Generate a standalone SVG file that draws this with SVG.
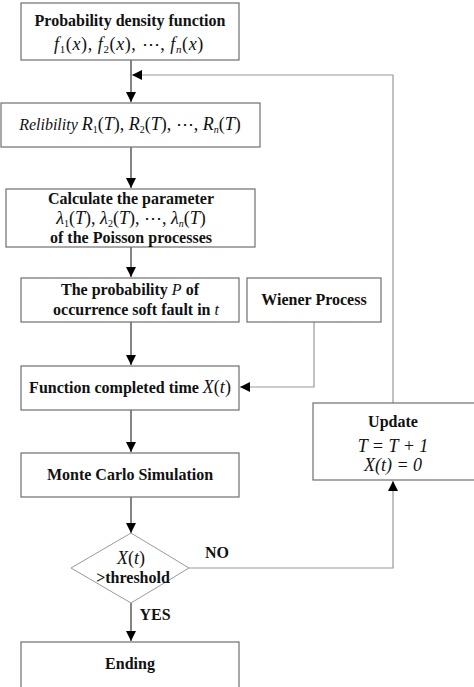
<svg xmlns="http://www.w3.org/2000/svg" width="474" height="687" viewBox="0 0 474 687">
<style>
.box{fill:#fff;stroke:#6e6e6e;stroke-width:1.2}
.dia{fill:#fff;stroke:#9a9a9a;stroke-width:1}
.b{font-family:"Liberation Serif",serif;font-weight:bold;font-size:16px;fill:#111;text-anchor:middle}
.m{font-family:"Liberation Serif",serif;font-style:italic;font-size:18px;fill:#111;text-anchor:middle}
.main{stroke:#333;stroke-width:1.2;fill:none}
.ret{stroke:#999;stroke-width:1.2;fill:none}
</style>
<defs>
<marker id="ah" viewBox="0 0 10 10" refX="10" refY="5" markerWidth="10" markerHeight="10" markerUnits="userSpaceOnUse" orient="auto">
<path d="M0,0 L10,5 L0,10 Z" fill="#000"/>
</marker>
</defs>
<rect width="474" height="687" fill="#fff"/>
<g id="connectors">
<line class="main" x1="131" y1="60" x2="131" y2="102" marker-end="url(#ah)"/>
<line class="main" x1="131" y1="147" x2="131" y2="188" marker-end="url(#ah)"/>
<line class="main" x1="131" y1="247" x2="131" y2="277" marker-end="url(#ah)"/>
<line class="main" x1="131" y1="322" x2="131" y2="365" marker-end="url(#ah)"/>
<line class="main" x1="131" y1="410" x2="131" y2="452" marker-end="url(#ah)"/>
<line class="main" x1="131" y1="497" x2="131" y2="533" marker-end="url(#ah)"/>
<line class="main" x1="131" y1="603" x2="131" y2="641" marker-end="url(#ah)"/>
<polyline class="ret" points="314,322 314,387 240,387" marker-end="url(#ah)"/>
<polyline class="ret" points="189,568 393,568 393,481" marker-end="url(#ah)"/>
<polyline class="ret" points="393,403 393,75 132,75" marker-end="url(#ah)"/>
<text class="b" x="217" y="558">NO</text>
<text class="b" x="155" y="620">YES</text>
</g>
<g id="pdf">
<rect class="box" x="21" y="3" width="218" height="57"/>
<text class="b" x="130" y="26">Probability density function</text>
<text class="m" x="129" y="50" letter-spacing="0.6"><tspan>f</tspan><tspan font-size="11" font-style="normal" dy="3">1</tspan><tspan dy="-3" font-style="normal">(</tspan>x<tspan font-style="normal">), </tspan>f<tspan font-size="11" font-style="normal" dy="3">2</tspan><tspan dy="-3" font-style="normal">(</tspan>x<tspan font-style="normal">), ⋯, </tspan>f<tspan font-size="11" dy="3">n</tspan><tspan dy="-3" font-style="normal">(</tspan>x<tspan font-style="normal">)</tspan></text>
</g>
<g id="reliability">
<rect class="box" x="1" y="103" width="259" height="44"/>
<text class="m" x="130" y="130"><tspan font-size="16">Relibility  </tspan>R<tspan font-size="10" font-style="normal" dy="3">1</tspan><tspan dy="-3" font-style="normal">(</tspan>T<tspan font-style="normal">), </tspan>R<tspan font-size="10" font-style="normal" dy="3">2</tspan><tspan dy="-3" font-style="normal">(</tspan>T<tspan font-style="normal">), ⋯, </tspan>R<tspan font-size="10" dy="3">n</tspan><tspan dy="-3" font-style="normal">(</tspan>T<tspan font-style="normal">)</tspan></text>
</g>
<g id="calc">
<rect class="box" x="6" y="189" width="249" height="58"/>
<text class="b" x="131" y="204">Calculate the parameter</text>
<text class="m" x="131" y="224">λ<tspan font-size="10" font-style="normal" dy="3">1</tspan><tspan dy="-3" font-style="normal">(</tspan>T<tspan font-style="normal">), </tspan>λ<tspan font-size="10" font-style="normal" dy="3">2</tspan><tspan dy="-3" font-style="normal">(</tspan>T<tspan font-style="normal">), ⋯, </tspan>λ<tspan font-size="10" dy="3">n</tspan><tspan dy="-3" font-style="normal">(</tspan>T<tspan font-style="normal">)</tspan></text>
<text class="b" x="131" y="243">of the Poisson processes</text>
</g>
<g id="probability">
<rect class="box" x="21" y="278" width="218" height="44"/>
<text class="b" x="130" y="295">The probability <tspan font-weight="normal" font-style="italic">P</tspan> of</text>
<text class="b" x="136" y="315">occurrence soft fault in <tspan font-weight="normal" font-style="italic">t</tspan></text>
</g>
<g id="wiener">
<rect class="box" x="247" y="278" width="134" height="44"/>
<text class="b" x="314" y="305">Wiener Process</text>
</g>
<g id="fct">
<rect class="box" x="21" y="366" width="218" height="44"/>
<text class="b" x="130" y="393">Function completed time <tspan font-weight="normal" font-style="italic" font-size="18">X</tspan><tspan font-weight="normal" font-size="18">(</tspan><tspan font-weight="normal" font-style="italic" font-size="18">t</tspan><tspan font-weight="normal" font-size="18">)</tspan></text>
</g>
<g id="montecarlo">
<rect class="box" x="21" y="453" width="218" height="44"/>
<text class="b" x="130" y="480">Monte Carlo Simulation</text>
</g>
<g id="update">
<rect class="box" x="313" y="403" width="162" height="77"/>
<text class="b" x="393" y="427">Update</text>
<text class="m" x="393" y="452" font-size="15">T = T + 1</text>
<text class="m" x="393" y="471" font-size="15">X(t) = 0</text>
</g>
<g id="decision">
<polygon class="dia" points="131,533 189,568 131,603 71,568"/>
<text class="m" x="131" y="564">X<tspan font-style="normal">(</tspan>t<tspan font-style="normal">)</tspan></text>
<text class="b" x="133" y="583">&gt;threshold</text>
</g>
<g id="ending">
<rect class="box" x="21" y="642" width="218" height="50"/>
<text class="b" x="130" y="669">Ending</text>
</g>
</svg>
